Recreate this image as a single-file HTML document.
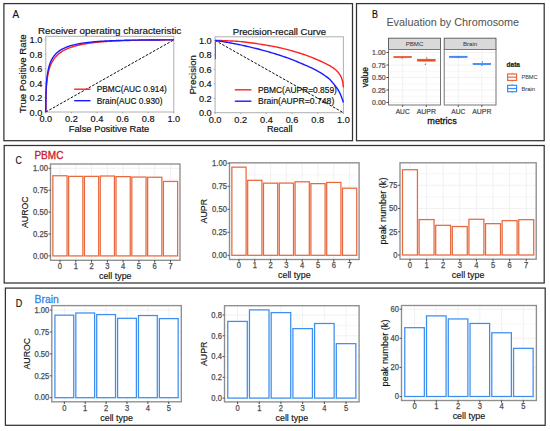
<!DOCTYPE html>
<html><head><meta charset="utf-8"><style>
html,body{margin:0;padding:0;background:#fff;width:550px;height:431px;overflow:hidden;}
svg{display:block;font-family:"Liberation Sans",sans-serif;}
</style></head><body>
<svg width="550" height="431" viewBox="0 0 550 431" font-family="Liberation Sans, sans-serif">
<rect x="3.9" y="3.6" width="348.6" height="137.1" fill="none" stroke="#333" stroke-width="1.25"/>
<rect x="356.5" y="3.6" width="187.7" height="137.1" fill="none" stroke="#333" stroke-width="1.25"/>
<rect x="4.2" y="145.5" width="540" height="137.5" fill="none" stroke="#333" stroke-width="1.25"/>
<rect x="5.4" y="288.1" width="539.8" height="137.2" fill="none" stroke="#333" stroke-width="1.25"/>
<text x="12.4" y="17.9" font-size="10" fill="#111" stroke="#111" stroke-width="0.15" textLength="6.6" lengthAdjust="spacingAndGlyphs">A</text>
<text x="372.1" y="18" font-size="10" fill="#111" stroke="#111" stroke-width="0.22" textLength="5.9" lengthAdjust="spacingAndGlyphs">B</text>
<text x="15.4" y="163.7" font-size="10.2" fill="#111" stroke="#111" stroke-width="0.15" textLength="6.3" lengthAdjust="spacingAndGlyphs">C</text>
<text x="15.8" y="306.7" font-size="10.2" fill="#111" stroke="#111" stroke-width="0.15" textLength="6.5" lengthAdjust="spacingAndGlyphs">D</text>
<rect x="45.8" y="36.3" width="128" height="75.7" fill="none" stroke="#b0b0b0" stroke-width="1"/>
<line x1="44.5" y1="112" x2="45.8" y2="112" stroke="#999" stroke-width="0.8"/>
<text x="42.4" y="115.55" font-size="9.9" fill="#111" stroke="#111" stroke-width="0.18" text-anchor="end" textLength="12.8" lengthAdjust="spacingAndGlyphs">0.0</text>
<line x1="45.8" y1="112" x2="45.8" y2="113.3" stroke="#999" stroke-width="0.8"/>
<text x="45.8" y="121.9" font-size="9.9" fill="#111" stroke="#111" stroke-width="0.18" text-anchor="middle" textLength="12.8" lengthAdjust="spacingAndGlyphs">0.0</text>
<line x1="44.5" y1="97.58" x2="45.8" y2="97.58" stroke="#999" stroke-width="0.8"/>
<text x="42.4" y="101.13" font-size="9.9" fill="#111" stroke="#111" stroke-width="0.18" text-anchor="end" textLength="12.8" lengthAdjust="spacingAndGlyphs">0.2</text>
<line x1="71.4" y1="112" x2="71.4" y2="113.3" stroke="#999" stroke-width="0.8"/>
<text x="71.4" y="121.9" font-size="9.9" fill="#111" stroke="#111" stroke-width="0.18" text-anchor="middle" textLength="12.8" lengthAdjust="spacingAndGlyphs">0.2</text>
<line x1="44.5" y1="83.16" x2="45.8" y2="83.16" stroke="#999" stroke-width="0.8"/>
<text x="42.4" y="86.71" font-size="9.9" fill="#111" stroke="#111" stroke-width="0.18" text-anchor="end" textLength="12.8" lengthAdjust="spacingAndGlyphs">0.4</text>
<line x1="97" y1="112" x2="97" y2="113.3" stroke="#999" stroke-width="0.8"/>
<text x="97" y="121.9" font-size="9.9" fill="#111" stroke="#111" stroke-width="0.18" text-anchor="middle" textLength="12.8" lengthAdjust="spacingAndGlyphs">0.4</text>
<line x1="44.5" y1="68.74" x2="45.8" y2="68.74" stroke="#999" stroke-width="0.8"/>
<text x="42.4" y="72.29" font-size="9.9" fill="#111" stroke="#111" stroke-width="0.18" text-anchor="end" textLength="12.8" lengthAdjust="spacingAndGlyphs">0.6</text>
<line x1="122.6" y1="112" x2="122.6" y2="113.3" stroke="#999" stroke-width="0.8"/>
<text x="122.6" y="121.9" font-size="9.9" fill="#111" stroke="#111" stroke-width="0.18" text-anchor="middle" textLength="12.8" lengthAdjust="spacingAndGlyphs">0.6</text>
<line x1="44.5" y1="54.32" x2="45.8" y2="54.32" stroke="#999" stroke-width="0.8"/>
<text x="42.4" y="57.87" font-size="9.9" fill="#111" stroke="#111" stroke-width="0.18" text-anchor="end" textLength="12.8" lengthAdjust="spacingAndGlyphs">0.8</text>
<line x1="148.2" y1="112" x2="148.2" y2="113.3" stroke="#999" stroke-width="0.8"/>
<text x="148.2" y="121.9" font-size="9.9" fill="#111" stroke="#111" stroke-width="0.18" text-anchor="middle" textLength="12.8" lengthAdjust="spacingAndGlyphs">0.8</text>
<line x1="44.5" y1="39.9" x2="45.8" y2="39.9" stroke="#999" stroke-width="0.8"/>
<text x="42.4" y="43.45" font-size="9.9" fill="#111" stroke="#111" stroke-width="0.18" text-anchor="end" textLength="12.8" lengthAdjust="spacingAndGlyphs">1.0</text>
<line x1="173.8" y1="112" x2="173.8" y2="113.3" stroke="#999" stroke-width="0.8"/>
<text x="173.8" y="121.9" font-size="9.9" fill="#111" stroke="#111" stroke-width="0.18" text-anchor="middle" textLength="12.8" lengthAdjust="spacingAndGlyphs">1.0</text>
<line x1="45.8" y1="112" x2="173.8" y2="39.9" stroke="#000" stroke-width="0.95" stroke-dasharray="2.6 1.5"/>
<path d="M45.8 112 L45.8 111.46 L45.8 111.24 L45.8 110.94 L45.8 110.51 L45.8 109.94 L45.8 109.16 L45.81 108.12 L45.81 106.74 L45.82 104.94 L45.85 102.61 L45.89 99.65 L45.98 95.96 L46.14 91.43 L46.46 86.03 L47.08 79.76 L47.34 77.88 L48.4 72.17 L49.46 68.27 L50.52 65.32 L51.59 62.96 L52.65 61.01 L53.71 59.35 L54.78 57.91 L55.84 56.65 L56.9 55.53 L57.96 54.53 L59.03 53.63 L60.09 52.81 L61.15 52.06 L62.21 51.38 L63.28 50.75 L64.34 50.16 L65.4 49.62 L66.47 49.12 L67.53 48.65 L68.59 48.21 L69.65 47.8 L70.72 47.42 L71.78 47.05 L72.84 46.71 L73.9 46.39 L74.97 46.09 L76.03 45.8 L77.09 45.53 L78.15 45.27 L79.22 45.03 L80.28 44.8 L81.34 44.58 L82.41 44.37 L83.47 44.17 L84.53 43.98 L85.59 43.8 L86.66 43.63 L87.72 43.46 L88.78 43.31 L89.84 43.16 L90.91 43.01 L91.97 42.88 L93.03 42.75 L94.1 42.62 L95.16 42.5 L96.22 42.39 L97.28 42.28 L98.35 42.17 L99.41 42.07 L100.47 41.97 L101.53 41.88 L102.6 41.79 L103.66 41.7 L104.72 41.62 L105.79 41.54 L106.85 41.47 L107.91 41.4 L108.97 41.33 L110.04 41.26 L111.1 41.2 L112.16 41.13 L113.22 41.07 L114.29 41.02 L115.35 40.96 L116.41 40.91 L117.48 40.86 L118.54 40.81 L119.6 40.77 L120.66 40.72 L121.73 40.68 L122.79 40.64 L123.85 40.6 L124.91 40.56 L125.98 40.53 L127.04 40.49 L128.1 40.46 L129.17 40.43 L130.23 40.4 L131.29 40.37 L132.35 40.34 L133.42 40.31 L134.48 40.29 L135.54 40.27 L136.6 40.24 L137.67 40.22 L138.73 40.2 L139.79 40.18 L140.86 40.16 L141.92 40.14 L142.98 40.12 L144.04 40.11 L145.11 40.09 L146.17 40.08 L147.23 40.06 L148.29 40.05 L149.36 40.04 L150.42 40.03 L151.48 40.01 L152.55 40 L153.61 39.99 L154.67 39.98 L155.73 39.98 L156.8 39.97 L157.86 39.96 L158.92 39.95 L159.98 39.95 L161.05 39.94 L162.11 39.93 L163.17 39.93 L164.24 39.93 L165.3 39.92 L166.36 39.92 L167.42 39.91 L168.49 39.91 L169.55 39.91 L170.61 39.91 L171.67 39.91 L172.74 39.91 L173.8 39.9" fill="none" stroke="#ff2020" stroke-width="1.4" stroke-linejoin="round"/>
<path d="M45.8 112 L45.8 111.38 L45.8 111.12 L45.8 110.77 L45.8 110.27 L45.8 109.61 L45.8 108.71 L45.81 107.5 L45.81 105.92 L45.82 103.86 L45.85 101.23 L45.89 97.92 L45.98 93.84 L46.14 88.91 L46.46 83.14 L47.08 76.57 L47.34 74.64 L48.4 68.84 L49.46 64.97 L50.52 62.09 L51.59 59.81 L52.65 57.94 L53.71 56.38 L54.78 55.03 L55.84 53.87 L56.9 52.84 L57.96 51.93 L59.03 51.11 L60.09 50.38 L61.15 49.71 L62.21 49.1 L63.28 48.55 L64.34 48.04 L65.4 47.57 L66.47 47.13 L67.53 46.73 L68.59 46.35 L69.65 46.01 L70.72 45.68 L71.78 45.38 L72.84 45.09 L73.9 44.82 L74.97 44.57 L76.03 44.33 L77.09 44.11 L78.15 43.9 L79.22 43.7 L80.28 43.52 L81.34 43.34 L82.41 43.17 L83.47 43.01 L84.53 42.86 L85.59 42.72 L86.66 42.58 L87.72 42.45 L88.78 42.33 L89.84 42.22 L90.91 42.1 L91.97 42 L93.03 41.9 L94.1 41.8 L95.16 41.71 L96.22 41.62 L97.28 41.54 L98.35 41.46 L99.41 41.39 L100.47 41.31 L101.53 41.24 L102.6 41.18 L103.66 41.12 L104.72 41.06 L105.79 41 L106.85 40.94 L107.91 40.89 L108.97 40.84 L110.04 40.79 L111.1 40.75 L112.16 40.7 L113.22 40.66 L114.29 40.62 L115.35 40.59 L116.41 40.55 L117.48 40.51 L118.54 40.48 L119.6 40.45 L120.66 40.42 L121.73 40.39 L122.79 40.36 L123.85 40.34 L124.91 40.31 L125.98 40.29 L127.04 40.26 L128.1 40.24 L129.17 40.22 L130.23 40.2 L131.29 40.18 L132.35 40.16 L133.42 40.15 L134.48 40.13 L135.54 40.12 L136.6 40.1 L137.67 40.09 L138.73 40.07 L139.79 40.06 L140.86 40.05 L141.92 40.04 L142.98 40.03 L144.04 40.02 L145.11 40.01 L146.17 40 L147.23 39.99 L148.29 39.98 L149.36 39.98 L150.42 39.97 L151.48 39.96 L152.55 39.96 L153.61 39.95 L154.67 39.95 L155.73 39.94 L156.8 39.94 L157.86 39.93 L158.92 39.93 L159.98 39.93 L161.05 39.92 L162.11 39.92 L163.17 39.92 L164.24 39.91 L165.3 39.91 L166.36 39.91 L167.42 39.91 L168.49 39.91 L169.55 39.91 L170.61 39.91 L171.67 39.91 L172.74 39.9 L173.8 39.9" fill="none" stroke="#1a1aff" stroke-width="1.4" stroke-linejoin="round"/>
<text x="109.6" y="34" font-size="9.3" fill="#111" stroke="#111" stroke-width="0.18" text-anchor="middle" textLength="143.4" lengthAdjust="spacingAndGlyphs">Receiver operating characteristic</text>
<text x="109" y="131.9" font-size="9.3" fill="#111" stroke="#111" stroke-width="0.18" text-anchor="middle" textLength="80.6" lengthAdjust="spacingAndGlyphs">False Positive Rate</text>
<text x="26.3" y="73.8" font-size="9.8" fill="#111" stroke="#111" stroke-width="0.18" text-anchor="middle" textLength="79" lengthAdjust="spacingAndGlyphs" transform="rotate(-90 26.3 73.8)">True Positive Rate</text>
<line x1="74.2" y1="89.2" x2="90.5" y2="89.2" stroke="#ff2020" stroke-width="1.4"/>
<line x1="74.2" y1="100.7" x2="90.5" y2="100.7" stroke="#1a1aff" stroke-width="1.4"/>
<text x="96.7" y="92.2" font-size="9" fill="#111" stroke="#111" stroke-width="0.18" textLength="70.2" lengthAdjust="spacingAndGlyphs">PBMC(AUC 0.914)</text>
<text x="96.7" y="103.7" font-size="9" fill="#111" stroke="#111" stroke-width="0.18" textLength="65.8" lengthAdjust="spacingAndGlyphs">Brain(AUC 0.930)</text>
<rect x="215.1" y="36.8" width="128.3" height="75.9" fill="none" stroke="#b0b0b0" stroke-width="1"/>
<line x1="213.8" y1="112.7" x2="215.1" y2="112.7" stroke="#999" stroke-width="0.8"/>
<text x="211.7" y="116.25" font-size="9.9" fill="#111" stroke="#111" stroke-width="0.18" text-anchor="end" textLength="12.8" lengthAdjust="spacingAndGlyphs">0.0</text>
<line x1="215.1" y1="112.7" x2="215.1" y2="114" stroke="#999" stroke-width="0.8"/>
<text x="215.1" y="122.6" font-size="9.9" fill="#111" stroke="#111" stroke-width="0.18" text-anchor="middle" textLength="12.8" lengthAdjust="spacingAndGlyphs">0.0</text>
<line x1="213.8" y1="98.24" x2="215.1" y2="98.24" stroke="#999" stroke-width="0.8"/>
<text x="211.7" y="101.79" font-size="9.9" fill="#111" stroke="#111" stroke-width="0.18" text-anchor="end" textLength="12.8" lengthAdjust="spacingAndGlyphs">0.2</text>
<line x1="240.76" y1="112.7" x2="240.76" y2="114" stroke="#999" stroke-width="0.8"/>
<text x="240.76" y="122.6" font-size="9.9" fill="#111" stroke="#111" stroke-width="0.18" text-anchor="middle" textLength="12.8" lengthAdjust="spacingAndGlyphs">0.2</text>
<line x1="213.8" y1="83.79" x2="215.1" y2="83.79" stroke="#999" stroke-width="0.8"/>
<text x="211.7" y="87.34" font-size="9.9" fill="#111" stroke="#111" stroke-width="0.18" text-anchor="end" textLength="12.8" lengthAdjust="spacingAndGlyphs">0.4</text>
<line x1="266.42" y1="112.7" x2="266.42" y2="114" stroke="#999" stroke-width="0.8"/>
<text x="266.42" y="122.6" font-size="9.9" fill="#111" stroke="#111" stroke-width="0.18" text-anchor="middle" textLength="12.8" lengthAdjust="spacingAndGlyphs">0.4</text>
<line x1="213.8" y1="69.33" x2="215.1" y2="69.33" stroke="#999" stroke-width="0.8"/>
<text x="211.7" y="72.88" font-size="9.9" fill="#111" stroke="#111" stroke-width="0.18" text-anchor="end" textLength="12.8" lengthAdjust="spacingAndGlyphs">0.6</text>
<line x1="292.08" y1="112.7" x2="292.08" y2="114" stroke="#999" stroke-width="0.8"/>
<text x="292.08" y="122.6" font-size="9.9" fill="#111" stroke="#111" stroke-width="0.18" text-anchor="middle" textLength="12.8" lengthAdjust="spacingAndGlyphs">0.6</text>
<line x1="213.8" y1="54.87" x2="215.1" y2="54.87" stroke="#999" stroke-width="0.8"/>
<text x="211.7" y="58.42" font-size="9.9" fill="#111" stroke="#111" stroke-width="0.18" text-anchor="end" textLength="12.8" lengthAdjust="spacingAndGlyphs">0.8</text>
<line x1="317.74" y1="112.7" x2="317.74" y2="114" stroke="#999" stroke-width="0.8"/>
<text x="317.74" y="122.6" font-size="9.9" fill="#111" stroke="#111" stroke-width="0.18" text-anchor="middle" textLength="12.8" lengthAdjust="spacingAndGlyphs">0.8</text>
<line x1="213.8" y1="40.41" x2="215.1" y2="40.41" stroke="#999" stroke-width="0.8"/>
<text x="211.7" y="43.96" font-size="9.9" fill="#111" stroke="#111" stroke-width="0.18" text-anchor="end" textLength="12.8" lengthAdjust="spacingAndGlyphs">1.0</text>
<line x1="343.4" y1="112.7" x2="343.4" y2="114" stroke="#999" stroke-width="0.8"/>
<text x="343.4" y="122.6" font-size="9.9" fill="#111" stroke="#111" stroke-width="0.18" text-anchor="middle" textLength="12.8" lengthAdjust="spacingAndGlyphs">1.0</text>
<line x1="215.1" y1="40.41" x2="343.4" y2="112.7" stroke="#000" stroke-width="0.95" stroke-dasharray="2.6 1.5"/>
<path d="M215.1 40.41 L217.06 40.43 L219.01 40.47 L220.97 40.52 L222.93 40.59 L224.89 40.66 L226.84 40.75 L228.8 40.84 L230.76 40.94 L232.71 41.05 L234.67 41.16 L236.63 41.28 L238.59 41.42 L240.54 41.59 L242.5 41.78 L244.46 41.98 L246.41 42.2 L248.37 42.44 L250.33 42.69 L252.29 42.96 L254.24 43.24 L256.2 43.52 L258.16 43.82 L260.11 44.13 L262.07 44.45 L264.03 44.77 L265.99 45.1 L267.94 45.44 L269.9 45.77 L271.86 46.12 L273.81 46.49 L275.77 46.88 L277.73 47.29 L279.68 47.72 L281.64 48.17 L283.6 48.64 L285.56 49.13 L287.51 49.63 L289.47 50.15 L291.43 50.68 L293.38 51.23 L295.34 51.8 L297.3 52.37 L299.26 52.96 L301.21 53.57 L303.17 54.22 L305.13 54.91 L307.08 55.63 L309.04 56.38 L311 57.15 L312.96 57.94 L314.91 58.74 L316.87 59.56 L318.83 60.4 L320.78 61.25 L322.74 62.15 L324.7 63.08 L326.66 64.06 L328.61 65.1 L330.57 66.19 L330.9 66.39 L331.23 66.59 L331.56 66.79 L331.89 67.01 L332.21 67.23 L332.54 67.45 L332.87 67.69 L333.2 67.93 L333.53 68.18 L333.86 68.43 L334.19 68.68 L334.52 68.93 L334.85 69.19 L335.18 69.45 L335.5 69.72 L335.83 70 L336.16 70.29 L336.49 70.59 L336.82 70.91 L337.15 71.23 L337.48 71.58 L337.81 71.94 L338.14 72.32 L338.47 72.71 L338.79 73.13 L339.12 73.57 L339.45 74.04 L339.78 74.53 L340.11 75.04 L340.44 75.6 L340.77 76.21 L341.1 76.91 L341.43 77.71 L341.76 78.62 L342.08 79.68 L342.41 80.88 L342.74 82.27 L343.07 84.45 L343.4 87.4" fill="none" stroke="#ff2020" stroke-width="1.4" stroke-linejoin="round"/>
<path d="M215.1 40.41 L217.06 40.7 L219.01 41 L220.97 41.3 L222.93 41.62 L224.89 41.94 L226.84 42.28 L228.8 42.63 L230.76 42.98 L232.71 43.35 L234.67 43.73 L236.63 44.12 L238.59 44.52 L240.54 44.93 L242.5 45.34 L244.46 45.77 L246.41 46.21 L248.37 46.66 L250.33 47.11 L252.29 47.58 L254.24 48.06 L256.2 48.54 L258.16 49.04 L260.11 49.55 L262.07 50.06 L264.03 50.59 L265.99 51.13 L267.94 51.68 L269.9 52.23 L271.86 52.8 L273.81 53.39 L275.77 53.99 L277.73 54.61 L279.68 55.24 L281.64 55.9 L283.6 56.56 L285.56 57.25 L287.51 57.96 L289.47 58.68 L291.43 59.42 L293.38 60.18 L295.34 60.96 L297.3 61.76 L299.26 62.58 L301.21 63.41 L303.17 64.24 L305.13 65.08 L307.08 65.94 L309.04 66.81 L311 67.72 L312.96 68.66 L314.91 69.64 L316.87 70.68 L318.83 71.77 L320.78 72.93 L322.74 74.15 L324.7 75.46 L326.66 76.85 L328.61 78.35 L330.57 80.28 L330.9 80.65 L331.23 81.02 L331.56 81.4 L331.89 81.78 L332.21 82.17 L332.54 82.57 L332.87 82.96 L333.2 83.36 L333.53 83.76 L333.86 84.15 L334.19 84.55 L334.52 84.96 L334.85 85.37 L335.18 85.78 L335.5 86.2 L335.83 86.63 L336.16 87.07 L336.49 87.52 L336.82 87.98 L337.15 88.46 L337.48 88.95 L337.81 89.45 L338.14 89.98 L338.47 90.52 L338.79 91.08 L339.12 91.67 L339.45 92.27 L339.78 92.91 L340.11 93.6 L340.44 94.34 L340.77 95.13 L341.1 95.95 L341.43 96.82 L341.76 97.72 L342.08 98.65 L342.41 99.6 L342.74 100.58 L343.07 101.57 L343.4 102.58" fill="none" stroke="#1a1aff" stroke-width="1.4" stroke-linejoin="round"/>
<line x1="215.4" y1="40.41" x2="215.4" y2="59.21" stroke="#5050e0" stroke-width="1"/>
<text x="279.4" y="34.5" font-size="9.3" fill="#111" stroke="#111" stroke-width="0.18" text-anchor="middle" textLength="93.2" lengthAdjust="spacingAndGlyphs">Precision-recall Curve</text>
<text x="279.7" y="131.9" font-size="9.3" fill="#111" stroke="#111" stroke-width="0.18" text-anchor="middle" textLength="25.6" lengthAdjust="spacingAndGlyphs">Recall</text>
<text x="196.3" y="74.9" font-size="9.8" fill="#111" stroke="#111" stroke-width="0.18" text-anchor="middle" textLength="39.4" lengthAdjust="spacingAndGlyphs" transform="rotate(-90 196.3 74.9)">Precision</text>
<line x1="234.8" y1="89.8" x2="251.4" y2="89.8" stroke="#ff2020" stroke-width="1.4"/>
<line x1="234.8" y1="101.2" x2="251.4" y2="101.2" stroke="#1a1aff" stroke-width="1.4"/>
<text x="257.9" y="92.8" font-size="9" fill="#111" stroke="#111" stroke-width="0.18" textLength="79" lengthAdjust="spacingAndGlyphs">PBMC(AUPR=0.859)</text>
<text x="257.9" y="104.2" font-size="9" fill="#111" stroke="#111" stroke-width="0.18" textLength="76.4" lengthAdjust="spacingAndGlyphs">Brain(AUPR=0.748)</text>
<text x="34.4" y="159.1" font-size="10.4" fill="#c8202a" stroke="#c8202a" stroke-width="0.31" textLength="29" lengthAdjust="spacingAndGlyphs">PBMC</text>
<line x1="50.5" y1="244.95" x2="180" y2="244.95" stroke="#efefef" stroke-width="0.5"/>
<line x1="50.5" y1="223.05" x2="180" y2="223.05" stroke="#efefef" stroke-width="0.5"/>
<line x1="50.5" y1="201.15" x2="180" y2="201.15" stroke="#efefef" stroke-width="0.5"/>
<line x1="50.5" y1="179.25" x2="180" y2="179.25" stroke="#efefef" stroke-width="0.5"/>
<line x1="50.5" y1="255.9" x2="180" y2="255.9" stroke="#efefef" stroke-width="0.9"/>
<line x1="50.5" y1="234" x2="180" y2="234" stroke="#efefef" stroke-width="0.9"/>
<line x1="50.5" y1="212.1" x2="180" y2="212.1" stroke="#efefef" stroke-width="0.9"/>
<line x1="50.5" y1="190.2" x2="180" y2="190.2" stroke="#efefef" stroke-width="0.9"/>
<line x1="50.5" y1="168.3" x2="180" y2="168.3" stroke="#efefef" stroke-width="0.9"/>
<line x1="59.98" y1="164" x2="59.98" y2="260.3" stroke="#efefef" stroke-width="0.9"/>
<line x1="75.77" y1="164" x2="75.77" y2="260.3" stroke="#efefef" stroke-width="0.9"/>
<line x1="91.56" y1="164" x2="91.56" y2="260.3" stroke="#efefef" stroke-width="0.9"/>
<line x1="107.35" y1="164" x2="107.35" y2="260.3" stroke="#efefef" stroke-width="0.9"/>
<line x1="123.15" y1="164" x2="123.15" y2="260.3" stroke="#efefef" stroke-width="0.9"/>
<line x1="138.94" y1="164" x2="138.94" y2="260.3" stroke="#efefef" stroke-width="0.9"/>
<line x1="154.73" y1="164" x2="154.73" y2="260.3" stroke="#efefef" stroke-width="0.9"/>
<line x1="170.52" y1="164" x2="170.52" y2="260.3" stroke="#efefef" stroke-width="0.9"/>
<rect x="52.87" y="175.75" width="14.21" height="80.15" fill="#fff" stroke="#e8693d" stroke-width="1.25"/>
<rect x="68.66" y="176.36" width="14.21" height="79.54" fill="#fff" stroke="#e8693d" stroke-width="1.25"/>
<rect x="84.45" y="176.36" width="14.21" height="79.54" fill="#fff" stroke="#e8693d" stroke-width="1.25"/>
<rect x="100.25" y="176.01" width="14.21" height="79.89" fill="#fff" stroke="#e8693d" stroke-width="1.25"/>
<rect x="116.04" y="176.62" width="14.21" height="79.28" fill="#fff" stroke="#e8693d" stroke-width="1.25"/>
<rect x="131.83" y="177.06" width="14.21" height="78.84" fill="#fff" stroke="#e8693d" stroke-width="1.25"/>
<rect x="147.63" y="177.24" width="14.21" height="78.66" fill="#fff" stroke="#e8693d" stroke-width="1.25"/>
<rect x="163.42" y="181.44" width="14.21" height="74.46" fill="#fff" stroke="#e8693d" stroke-width="1.25"/>
<rect x="50.5" y="164" width="129.5" height="96.3" fill="none" stroke="#8e8e8e" stroke-width="1.35"/>
<line x1="48.5" y1="255.9" x2="50.5" y2="255.9" stroke="#444" stroke-width="0.9"/>
<text x="47.9" y="258.65" font-size="8.2" fill="#4d4d4d" stroke="#4d4d4d" stroke-width="0.25" text-anchor="end" textLength="14.79" lengthAdjust="spacingAndGlyphs">0.00</text>
<line x1="48.5" y1="234" x2="50.5" y2="234" stroke="#444" stroke-width="0.9"/>
<text x="47.9" y="236.75" font-size="8.2" fill="#4d4d4d" stroke="#4d4d4d" stroke-width="0.25" text-anchor="end" textLength="14.79" lengthAdjust="spacingAndGlyphs">0.25</text>
<line x1="48.5" y1="212.1" x2="50.5" y2="212.1" stroke="#444" stroke-width="0.9"/>
<text x="47.9" y="214.85" font-size="8.2" fill="#4d4d4d" stroke="#4d4d4d" stroke-width="0.25" text-anchor="end" textLength="14.79" lengthAdjust="spacingAndGlyphs">0.50</text>
<line x1="48.5" y1="190.2" x2="50.5" y2="190.2" stroke="#444" stroke-width="0.9"/>
<text x="47.9" y="192.95" font-size="8.2" fill="#4d4d4d" stroke="#4d4d4d" stroke-width="0.25" text-anchor="end" textLength="14.79" lengthAdjust="spacingAndGlyphs">0.75</text>
<line x1="48.5" y1="168.3" x2="50.5" y2="168.3" stroke="#444" stroke-width="0.9"/>
<text x="47.9" y="171.05" font-size="8.2" fill="#4d4d4d" stroke="#4d4d4d" stroke-width="0.25" text-anchor="end" textLength="14.79" lengthAdjust="spacingAndGlyphs">1.00</text>
<line x1="59.98" y1="260.3" x2="59.98" y2="262.5" stroke="#333" stroke-width="0.9"/>
<text x="59.98" y="269.1" font-size="8.2" fill="#4d4d4d" stroke="#4d4d4d" stroke-width="0.25" text-anchor="middle" textLength="4.23" lengthAdjust="spacingAndGlyphs">0</text>
<line x1="75.77" y1="260.3" x2="75.77" y2="262.5" stroke="#333" stroke-width="0.9"/>
<text x="75.77" y="269.1" font-size="8.2" fill="#4d4d4d" stroke="#4d4d4d" stroke-width="0.25" text-anchor="middle" textLength="4.23" lengthAdjust="spacingAndGlyphs">1</text>
<line x1="91.56" y1="260.3" x2="91.56" y2="262.5" stroke="#333" stroke-width="0.9"/>
<text x="91.56" y="269.1" font-size="8.2" fill="#4d4d4d" stroke="#4d4d4d" stroke-width="0.25" text-anchor="middle" textLength="4.23" lengthAdjust="spacingAndGlyphs">2</text>
<line x1="107.35" y1="260.3" x2="107.35" y2="262.5" stroke="#333" stroke-width="0.9"/>
<text x="107.35" y="269.1" font-size="8.2" fill="#4d4d4d" stroke="#4d4d4d" stroke-width="0.25" text-anchor="middle" textLength="4.23" lengthAdjust="spacingAndGlyphs">3</text>
<line x1="123.15" y1="260.3" x2="123.15" y2="262.5" stroke="#333" stroke-width="0.9"/>
<text x="123.15" y="269.1" font-size="8.2" fill="#4d4d4d" stroke="#4d4d4d" stroke-width="0.25" text-anchor="middle" textLength="4.23" lengthAdjust="spacingAndGlyphs">4</text>
<line x1="138.94" y1="260.3" x2="138.94" y2="262.5" stroke="#333" stroke-width="0.9"/>
<text x="138.94" y="269.1" font-size="8.2" fill="#4d4d4d" stroke="#4d4d4d" stroke-width="0.25" text-anchor="middle" textLength="4.23" lengthAdjust="spacingAndGlyphs">5</text>
<line x1="154.73" y1="260.3" x2="154.73" y2="262.5" stroke="#333" stroke-width="0.9"/>
<text x="154.73" y="269.1" font-size="8.2" fill="#4d4d4d" stroke="#4d4d4d" stroke-width="0.25" text-anchor="middle" textLength="4.23" lengthAdjust="spacingAndGlyphs">6</text>
<line x1="170.52" y1="260.3" x2="170.52" y2="262.5" stroke="#333" stroke-width="0.9"/>
<text x="170.52" y="269.1" font-size="8.2" fill="#4d4d4d" stroke="#4d4d4d" stroke-width="0.25" text-anchor="middle" textLength="4.23" lengthAdjust="spacingAndGlyphs">7</text>
<text x="115.25" y="279.2" font-size="9.2" fill="#111" stroke="#111" stroke-width="0.15" text-anchor="middle" textLength="32.6" lengthAdjust="spacingAndGlyphs">cell type</text>
<text x="28.3" y="212.15" font-size="9.5" fill="#111" stroke="#111" stroke-width="0.15" text-anchor="middle" textLength="31.7" lengthAdjust="spacingAndGlyphs" transform="rotate(-90 28.3 212.15)">AUROC</text>
<line x1="229.5" y1="243.8" x2="359.1" y2="243.8" stroke="#efefef" stroke-width="0.5"/>
<line x1="229.5" y1="220.8" x2="359.1" y2="220.8" stroke="#efefef" stroke-width="0.5"/>
<line x1="229.5" y1="197.8" x2="359.1" y2="197.8" stroke="#efefef" stroke-width="0.5"/>
<line x1="229.5" y1="174.8" x2="359.1" y2="174.8" stroke="#efefef" stroke-width="0.5"/>
<line x1="229.5" y1="255.3" x2="359.1" y2="255.3" stroke="#efefef" stroke-width="0.9"/>
<line x1="229.5" y1="232.3" x2="359.1" y2="232.3" stroke="#efefef" stroke-width="0.9"/>
<line x1="229.5" y1="209.3" x2="359.1" y2="209.3" stroke="#efefef" stroke-width="0.9"/>
<line x1="229.5" y1="186.3" x2="359.1" y2="186.3" stroke="#efefef" stroke-width="0.9"/>
<line x1="229.5" y1="163.3" x2="359.1" y2="163.3" stroke="#efefef" stroke-width="0.9"/>
<line x1="238.98" y1="162.8" x2="238.98" y2="259.5" stroke="#efefef" stroke-width="0.9"/>
<line x1="254.79" y1="162.8" x2="254.79" y2="259.5" stroke="#efefef" stroke-width="0.9"/>
<line x1="270.59" y1="162.8" x2="270.59" y2="259.5" stroke="#efefef" stroke-width="0.9"/>
<line x1="286.4" y1="162.8" x2="286.4" y2="259.5" stroke="#efefef" stroke-width="0.9"/>
<line x1="302.2" y1="162.8" x2="302.2" y2="259.5" stroke="#efefef" stroke-width="0.9"/>
<line x1="318.01" y1="162.8" x2="318.01" y2="259.5" stroke="#efefef" stroke-width="0.9"/>
<line x1="333.81" y1="162.8" x2="333.81" y2="259.5" stroke="#efefef" stroke-width="0.9"/>
<line x1="349.62" y1="162.8" x2="349.62" y2="259.5" stroke="#efefef" stroke-width="0.9"/>
<rect x="231.87" y="167.16" width="14.22" height="88.14" fill="#fff" stroke="#e8693d" stroke-width="1.25"/>
<rect x="247.68" y="180.32" width="14.22" height="74.98" fill="#fff" stroke="#e8693d" stroke-width="1.25"/>
<rect x="263.48" y="183.17" width="14.22" height="72.13" fill="#fff" stroke="#e8693d" stroke-width="1.25"/>
<rect x="279.29" y="183.08" width="14.22" height="72.22" fill="#fff" stroke="#e8693d" stroke-width="1.25"/>
<rect x="295.09" y="181.79" width="14.22" height="73.51" fill="#fff" stroke="#e8693d" stroke-width="1.25"/>
<rect x="310.9" y="183.63" width="14.22" height="71.67" fill="#fff" stroke="#e8693d" stroke-width="1.25"/>
<rect x="326.7" y="182.44" width="14.22" height="72.86" fill="#fff" stroke="#e8693d" stroke-width="1.25"/>
<rect x="342.5" y="188.23" width="14.22" height="67.07" fill="#fff" stroke="#e8693d" stroke-width="1.25"/>
<rect x="229.5" y="162.8" width="129.6" height="96.7" fill="none" stroke="#8e8e8e" stroke-width="1.35"/>
<line x1="227.5" y1="255.3" x2="229.5" y2="255.3" stroke="#444" stroke-width="0.9"/>
<text x="226.9" y="258.05" font-size="8.2" fill="#4d4d4d" stroke="#4d4d4d" stroke-width="0.25" text-anchor="end" textLength="14.79" lengthAdjust="spacingAndGlyphs">0.00</text>
<line x1="227.5" y1="232.3" x2="229.5" y2="232.3" stroke="#444" stroke-width="0.9"/>
<text x="226.9" y="235.05" font-size="8.2" fill="#4d4d4d" stroke="#4d4d4d" stroke-width="0.25" text-anchor="end" textLength="14.79" lengthAdjust="spacingAndGlyphs">0.25</text>
<line x1="227.5" y1="209.3" x2="229.5" y2="209.3" stroke="#444" stroke-width="0.9"/>
<text x="226.9" y="212.05" font-size="8.2" fill="#4d4d4d" stroke="#4d4d4d" stroke-width="0.25" text-anchor="end" textLength="14.79" lengthAdjust="spacingAndGlyphs">0.50</text>
<line x1="227.5" y1="186.3" x2="229.5" y2="186.3" stroke="#444" stroke-width="0.9"/>
<text x="226.9" y="189.05" font-size="8.2" fill="#4d4d4d" stroke="#4d4d4d" stroke-width="0.25" text-anchor="end" textLength="14.79" lengthAdjust="spacingAndGlyphs">0.75</text>
<line x1="227.5" y1="163.3" x2="229.5" y2="163.3" stroke="#444" stroke-width="0.9"/>
<text x="226.9" y="166.05" font-size="8.2" fill="#4d4d4d" stroke="#4d4d4d" stroke-width="0.25" text-anchor="end" textLength="14.79" lengthAdjust="spacingAndGlyphs">1.00</text>
<line x1="238.98" y1="259.5" x2="238.98" y2="261.7" stroke="#333" stroke-width="0.9"/>
<text x="238.98" y="268.3" font-size="8.2" fill="#4d4d4d" stroke="#4d4d4d" stroke-width="0.25" text-anchor="middle" textLength="4.23" lengthAdjust="spacingAndGlyphs">0</text>
<line x1="254.79" y1="259.5" x2="254.79" y2="261.7" stroke="#333" stroke-width="0.9"/>
<text x="254.79" y="268.3" font-size="8.2" fill="#4d4d4d" stroke="#4d4d4d" stroke-width="0.25" text-anchor="middle" textLength="4.23" lengthAdjust="spacingAndGlyphs">1</text>
<line x1="270.59" y1="259.5" x2="270.59" y2="261.7" stroke="#333" stroke-width="0.9"/>
<text x="270.59" y="268.3" font-size="8.2" fill="#4d4d4d" stroke="#4d4d4d" stroke-width="0.25" text-anchor="middle" textLength="4.23" lengthAdjust="spacingAndGlyphs">2</text>
<line x1="286.4" y1="259.5" x2="286.4" y2="261.7" stroke="#333" stroke-width="0.9"/>
<text x="286.4" y="268.3" font-size="8.2" fill="#4d4d4d" stroke="#4d4d4d" stroke-width="0.25" text-anchor="middle" textLength="4.23" lengthAdjust="spacingAndGlyphs">3</text>
<line x1="302.2" y1="259.5" x2="302.2" y2="261.7" stroke="#333" stroke-width="0.9"/>
<text x="302.2" y="268.3" font-size="8.2" fill="#4d4d4d" stroke="#4d4d4d" stroke-width="0.25" text-anchor="middle" textLength="4.23" lengthAdjust="spacingAndGlyphs">4</text>
<line x1="318.01" y1="259.5" x2="318.01" y2="261.7" stroke="#333" stroke-width="0.9"/>
<text x="318.01" y="268.3" font-size="8.2" fill="#4d4d4d" stroke="#4d4d4d" stroke-width="0.25" text-anchor="middle" textLength="4.23" lengthAdjust="spacingAndGlyphs">5</text>
<line x1="333.81" y1="259.5" x2="333.81" y2="261.7" stroke="#333" stroke-width="0.9"/>
<text x="333.81" y="268.3" font-size="8.2" fill="#4d4d4d" stroke="#4d4d4d" stroke-width="0.25" text-anchor="middle" textLength="4.23" lengthAdjust="spacingAndGlyphs">6</text>
<line x1="349.62" y1="259.5" x2="349.62" y2="261.7" stroke="#333" stroke-width="0.9"/>
<text x="349.62" y="268.3" font-size="8.2" fill="#4d4d4d" stroke="#4d4d4d" stroke-width="0.25" text-anchor="middle" textLength="4.23" lengthAdjust="spacingAndGlyphs">7</text>
<text x="294.3" y="278.4" font-size="9.2" fill="#111" stroke="#111" stroke-width="0.15" text-anchor="middle" textLength="32.6" lengthAdjust="spacingAndGlyphs">cell type</text>
<text x="207.4" y="211.15" font-size="9.5" fill="#111" stroke="#111" stroke-width="0.15" text-anchor="middle" textLength="24.5" lengthAdjust="spacingAndGlyphs" transform="rotate(-90 207.4 211.15)">AUPR</text>
<line x1="400" y1="243.38" x2="536.2" y2="243.38" stroke="#efefef" stroke-width="0.5"/>
<line x1="400" y1="220.12" x2="536.2" y2="220.12" stroke="#efefef" stroke-width="0.5"/>
<line x1="400" y1="196.88" x2="536.2" y2="196.88" stroke="#efefef" stroke-width="0.5"/>
<line x1="400" y1="173.62" x2="536.2" y2="173.62" stroke="#efefef" stroke-width="0.5"/>
<line x1="400" y1="255" x2="536.2" y2="255" stroke="#efefef" stroke-width="0.9"/>
<line x1="400" y1="231.75" x2="536.2" y2="231.75" stroke="#efefef" stroke-width="0.9"/>
<line x1="400" y1="208.5" x2="536.2" y2="208.5" stroke="#efefef" stroke-width="0.9"/>
<line x1="400" y1="185.25" x2="536.2" y2="185.25" stroke="#efefef" stroke-width="0.9"/>
<line x1="409.97" y1="162.8" x2="409.97" y2="259.2" stroke="#efefef" stroke-width="0.9"/>
<line x1="426.58" y1="162.8" x2="426.58" y2="259.2" stroke="#efefef" stroke-width="0.9"/>
<line x1="443.19" y1="162.8" x2="443.19" y2="259.2" stroke="#efefef" stroke-width="0.9"/>
<line x1="459.8" y1="162.8" x2="459.8" y2="259.2" stroke="#efefef" stroke-width="0.9"/>
<line x1="476.4" y1="162.8" x2="476.4" y2="259.2" stroke="#efefef" stroke-width="0.9"/>
<line x1="493.01" y1="162.8" x2="493.01" y2="259.2" stroke="#efefef" stroke-width="0.9"/>
<line x1="509.62" y1="162.8" x2="509.62" y2="259.2" stroke="#efefef" stroke-width="0.9"/>
<line x1="526.23" y1="162.8" x2="526.23" y2="259.2" stroke="#efefef" stroke-width="0.9"/>
<rect x="402.49" y="169.72" width="14.95" height="85.28" fill="#fff" stroke="#e8693d" stroke-width="1.25"/>
<rect x="419.1" y="219.57" width="14.95" height="35.43" fill="#fff" stroke="#e8693d" stroke-width="1.25"/>
<rect x="435.71" y="225.33" width="14.95" height="29.67" fill="#fff" stroke="#e8693d" stroke-width="1.25"/>
<rect x="452.32" y="226.54" width="14.95" height="28.46" fill="#fff" stroke="#e8693d" stroke-width="1.25"/>
<rect x="468.93" y="219.29" width="14.95" height="35.71" fill="#fff" stroke="#e8693d" stroke-width="1.25"/>
<rect x="485.54" y="223.66" width="14.95" height="31.34" fill="#fff" stroke="#e8693d" stroke-width="1.25"/>
<rect x="502.15" y="220.68" width="14.95" height="34.32" fill="#fff" stroke="#e8693d" stroke-width="1.25"/>
<rect x="518.76" y="219.66" width="14.95" height="35.34" fill="#fff" stroke="#e8693d" stroke-width="1.25"/>
<rect x="400" y="162.8" width="136.2" height="96.4" fill="none" stroke="#8e8e8e" stroke-width="1.35"/>
<line x1="398" y1="255" x2="400" y2="255" stroke="#444" stroke-width="0.9"/>
<text x="397.4" y="257.75" font-size="8.2" fill="#4d4d4d" stroke="#4d4d4d" stroke-width="0.25" text-anchor="end" textLength="4.23" lengthAdjust="spacingAndGlyphs">0</text>
<line x1="398" y1="231.75" x2="400" y2="231.75" stroke="#444" stroke-width="0.9"/>
<text x="397.4" y="234.5" font-size="8.2" fill="#4d4d4d" stroke="#4d4d4d" stroke-width="0.25" text-anchor="end" textLength="8.45" lengthAdjust="spacingAndGlyphs">25</text>
<line x1="398" y1="208.5" x2="400" y2="208.5" stroke="#444" stroke-width="0.9"/>
<text x="397.4" y="211.25" font-size="8.2" fill="#4d4d4d" stroke="#4d4d4d" stroke-width="0.25" text-anchor="end" textLength="8.45" lengthAdjust="spacingAndGlyphs">50</text>
<line x1="398" y1="185.25" x2="400" y2="185.25" stroke="#444" stroke-width="0.9"/>
<text x="397.4" y="188" font-size="8.2" fill="#4d4d4d" stroke="#4d4d4d" stroke-width="0.25" text-anchor="end" textLength="8.45" lengthAdjust="spacingAndGlyphs">75</text>
<line x1="409.97" y1="259.2" x2="409.97" y2="261.4" stroke="#333" stroke-width="0.9"/>
<text x="409.97" y="268" font-size="8.2" fill="#4d4d4d" stroke="#4d4d4d" stroke-width="0.25" text-anchor="middle" textLength="4.23" lengthAdjust="spacingAndGlyphs">0</text>
<line x1="426.58" y1="259.2" x2="426.58" y2="261.4" stroke="#333" stroke-width="0.9"/>
<text x="426.58" y="268" font-size="8.2" fill="#4d4d4d" stroke="#4d4d4d" stroke-width="0.25" text-anchor="middle" textLength="4.23" lengthAdjust="spacingAndGlyphs">1</text>
<line x1="443.19" y1="259.2" x2="443.19" y2="261.4" stroke="#333" stroke-width="0.9"/>
<text x="443.19" y="268" font-size="8.2" fill="#4d4d4d" stroke="#4d4d4d" stroke-width="0.25" text-anchor="middle" textLength="4.23" lengthAdjust="spacingAndGlyphs">2</text>
<line x1="459.8" y1="259.2" x2="459.8" y2="261.4" stroke="#333" stroke-width="0.9"/>
<text x="459.8" y="268" font-size="8.2" fill="#4d4d4d" stroke="#4d4d4d" stroke-width="0.25" text-anchor="middle" textLength="4.23" lengthAdjust="spacingAndGlyphs">3</text>
<line x1="476.4" y1="259.2" x2="476.4" y2="261.4" stroke="#333" stroke-width="0.9"/>
<text x="476.4" y="268" font-size="8.2" fill="#4d4d4d" stroke="#4d4d4d" stroke-width="0.25" text-anchor="middle" textLength="4.23" lengthAdjust="spacingAndGlyphs">4</text>
<line x1="493.01" y1="259.2" x2="493.01" y2="261.4" stroke="#333" stroke-width="0.9"/>
<text x="493.01" y="268" font-size="8.2" fill="#4d4d4d" stroke="#4d4d4d" stroke-width="0.25" text-anchor="middle" textLength="4.23" lengthAdjust="spacingAndGlyphs">5</text>
<line x1="509.62" y1="259.2" x2="509.62" y2="261.4" stroke="#333" stroke-width="0.9"/>
<text x="509.62" y="268" font-size="8.2" fill="#4d4d4d" stroke="#4d4d4d" stroke-width="0.25" text-anchor="middle" textLength="4.23" lengthAdjust="spacingAndGlyphs">6</text>
<line x1="526.23" y1="259.2" x2="526.23" y2="261.4" stroke="#333" stroke-width="0.9"/>
<text x="526.23" y="268" font-size="8.2" fill="#4d4d4d" stroke="#4d4d4d" stroke-width="0.25" text-anchor="middle" textLength="4.23" lengthAdjust="spacingAndGlyphs">7</text>
<text x="468.1" y="278.1" font-size="9.2" fill="#111" stroke="#111" stroke-width="0.15" text-anchor="middle" textLength="32.6" lengthAdjust="spacingAndGlyphs">cell type</text>
<text x="385.5" y="211" font-size="9.5" fill="#111" stroke="#111" stroke-width="0.15" text-anchor="middle" textLength="67" lengthAdjust="spacingAndGlyphs" transform="rotate(-90 385.5 211)">peak number (k)</text>
<text x="34.6" y="303.4" font-size="10.6" fill="#3a86e8" stroke="#3a86e8" stroke-width="0.32" textLength="24.2" lengthAdjust="spacingAndGlyphs">Brain</text>
<line x1="51.8" y1="386.75" x2="181.3" y2="386.75" stroke="#efefef" stroke-width="0.5"/>
<line x1="51.8" y1="364.85" x2="181.3" y2="364.85" stroke="#efefef" stroke-width="0.5"/>
<line x1="51.8" y1="342.95" x2="181.3" y2="342.95" stroke="#efefef" stroke-width="0.5"/>
<line x1="51.8" y1="321.05" x2="181.3" y2="321.05" stroke="#efefef" stroke-width="0.5"/>
<line x1="51.8" y1="397.7" x2="181.3" y2="397.7" stroke="#efefef" stroke-width="0.9"/>
<line x1="51.8" y1="375.8" x2="181.3" y2="375.8" stroke="#efefef" stroke-width="0.9"/>
<line x1="51.8" y1="353.9" x2="181.3" y2="353.9" stroke="#efefef" stroke-width="0.9"/>
<line x1="51.8" y1="332" x2="181.3" y2="332" stroke="#efefef" stroke-width="0.9"/>
<line x1="51.8" y1="310.1" x2="181.3" y2="310.1" stroke="#efefef" stroke-width="0.9"/>
<line x1="64.33" y1="305.6" x2="64.33" y2="401.8" stroke="#efefef" stroke-width="0.9"/>
<line x1="85.22" y1="305.6" x2="85.22" y2="401.8" stroke="#efefef" stroke-width="0.9"/>
<line x1="106.11" y1="305.6" x2="106.11" y2="401.8" stroke="#efefef" stroke-width="0.9"/>
<line x1="126.99" y1="305.6" x2="126.99" y2="401.8" stroke="#efefef" stroke-width="0.9"/>
<line x1="147.88" y1="305.6" x2="147.88" y2="401.8" stroke="#efefef" stroke-width="0.9"/>
<line x1="168.77" y1="305.6" x2="168.77" y2="401.8" stroke="#efefef" stroke-width="0.9"/>
<rect x="54.93" y="315.18" width="18.8" height="82.52" fill="#fff" stroke="#3d8ef0" stroke-width="1.25"/>
<rect x="75.82" y="312.99" width="18.8" height="84.71" fill="#fff" stroke="#3d8ef0" stroke-width="1.25"/>
<rect x="96.71" y="314.57" width="18.8" height="83.13" fill="#fff" stroke="#3d8ef0" stroke-width="1.25"/>
<rect x="117.59" y="318.33" width="18.8" height="79.37" fill="#fff" stroke="#3d8ef0" stroke-width="1.25"/>
<rect x="138.48" y="315.53" width="18.8" height="82.17" fill="#fff" stroke="#3d8ef0" stroke-width="1.25"/>
<rect x="159.37" y="318.6" width="18.8" height="79.1" fill="#fff" stroke="#3d8ef0" stroke-width="1.25"/>
<rect x="51.8" y="305.6" width="129.5" height="96.2" fill="none" stroke="#8e8e8e" stroke-width="1.35"/>
<line x1="49.8" y1="397.7" x2="51.8" y2="397.7" stroke="#444" stroke-width="0.9"/>
<text x="49.2" y="400.45" font-size="8.2" fill="#4d4d4d" stroke="#4d4d4d" stroke-width="0.25" text-anchor="end" textLength="14.79" lengthAdjust="spacingAndGlyphs">0.00</text>
<line x1="49.8" y1="375.8" x2="51.8" y2="375.8" stroke="#444" stroke-width="0.9"/>
<text x="49.2" y="378.55" font-size="8.2" fill="#4d4d4d" stroke="#4d4d4d" stroke-width="0.25" text-anchor="end" textLength="14.79" lengthAdjust="spacingAndGlyphs">0.25</text>
<line x1="49.8" y1="353.9" x2="51.8" y2="353.9" stroke="#444" stroke-width="0.9"/>
<text x="49.2" y="356.65" font-size="8.2" fill="#4d4d4d" stroke="#4d4d4d" stroke-width="0.25" text-anchor="end" textLength="14.79" lengthAdjust="spacingAndGlyphs">0.50</text>
<line x1="49.8" y1="332" x2="51.8" y2="332" stroke="#444" stroke-width="0.9"/>
<text x="49.2" y="334.75" font-size="8.2" fill="#4d4d4d" stroke="#4d4d4d" stroke-width="0.25" text-anchor="end" textLength="14.79" lengthAdjust="spacingAndGlyphs">0.75</text>
<line x1="49.8" y1="310.1" x2="51.8" y2="310.1" stroke="#444" stroke-width="0.9"/>
<text x="49.2" y="312.85" font-size="8.2" fill="#4d4d4d" stroke="#4d4d4d" stroke-width="0.25" text-anchor="end" textLength="14.79" lengthAdjust="spacingAndGlyphs">1.00</text>
<line x1="64.33" y1="401.8" x2="64.33" y2="404" stroke="#333" stroke-width="0.9"/>
<text x="64.33" y="410.6" font-size="8.2" fill="#4d4d4d" stroke="#4d4d4d" stroke-width="0.25" text-anchor="middle" textLength="4.23" lengthAdjust="spacingAndGlyphs">0</text>
<line x1="85.22" y1="401.8" x2="85.22" y2="404" stroke="#333" stroke-width="0.9"/>
<text x="85.22" y="410.6" font-size="8.2" fill="#4d4d4d" stroke="#4d4d4d" stroke-width="0.25" text-anchor="middle" textLength="4.23" lengthAdjust="spacingAndGlyphs">1</text>
<line x1="106.11" y1="401.8" x2="106.11" y2="404" stroke="#333" stroke-width="0.9"/>
<text x="106.11" y="410.6" font-size="8.2" fill="#4d4d4d" stroke="#4d4d4d" stroke-width="0.25" text-anchor="middle" textLength="4.23" lengthAdjust="spacingAndGlyphs">2</text>
<line x1="126.99" y1="401.8" x2="126.99" y2="404" stroke="#333" stroke-width="0.9"/>
<text x="126.99" y="410.6" font-size="8.2" fill="#4d4d4d" stroke="#4d4d4d" stroke-width="0.25" text-anchor="middle" textLength="4.23" lengthAdjust="spacingAndGlyphs">3</text>
<line x1="147.88" y1="401.8" x2="147.88" y2="404" stroke="#333" stroke-width="0.9"/>
<text x="147.88" y="410.6" font-size="8.2" fill="#4d4d4d" stroke="#4d4d4d" stroke-width="0.25" text-anchor="middle" textLength="4.23" lengthAdjust="spacingAndGlyphs">4</text>
<line x1="168.77" y1="401.8" x2="168.77" y2="404" stroke="#333" stroke-width="0.9"/>
<text x="168.77" y="410.6" font-size="8.2" fill="#4d4d4d" stroke="#4d4d4d" stroke-width="0.25" text-anchor="middle" textLength="4.23" lengthAdjust="spacingAndGlyphs">5</text>
<text x="116.55" y="420.7" font-size="9.2" fill="#111" stroke="#111" stroke-width="0.15" text-anchor="middle" textLength="32.6" lengthAdjust="spacingAndGlyphs">cell type</text>
<text x="30" y="353.7" font-size="9.5" fill="#111" stroke="#111" stroke-width="0.15" text-anchor="middle" textLength="31.7" lengthAdjust="spacingAndGlyphs" transform="rotate(-90 30 353.7)">AUROC</text>
<line x1="224.5" y1="387.71" x2="359.1" y2="387.71" stroke="#efefef" stroke-width="0.5"/>
<line x1="224.5" y1="366.93" x2="359.1" y2="366.93" stroke="#efefef" stroke-width="0.5"/>
<line x1="224.5" y1="346.15" x2="359.1" y2="346.15" stroke="#efefef" stroke-width="0.5"/>
<line x1="224.5" y1="325.37" x2="359.1" y2="325.37" stroke="#efefef" stroke-width="0.5"/>
<line x1="224.5" y1="398.1" x2="359.1" y2="398.1" stroke="#efefef" stroke-width="0.9"/>
<line x1="224.5" y1="377.32" x2="359.1" y2="377.32" stroke="#efefef" stroke-width="0.9"/>
<line x1="224.5" y1="356.54" x2="359.1" y2="356.54" stroke="#efefef" stroke-width="0.9"/>
<line x1="224.5" y1="335.76" x2="359.1" y2="335.76" stroke="#efefef" stroke-width="0.9"/>
<line x1="224.5" y1="314.98" x2="359.1" y2="314.98" stroke="#efefef" stroke-width="0.9"/>
<line x1="237.53" y1="305.7" x2="237.53" y2="401.9" stroke="#efefef" stroke-width="0.9"/>
<line x1="259.24" y1="305.7" x2="259.24" y2="401.9" stroke="#efefef" stroke-width="0.9"/>
<line x1="280.95" y1="305.7" x2="280.95" y2="401.9" stroke="#efefef" stroke-width="0.9"/>
<line x1="302.65" y1="305.7" x2="302.65" y2="401.9" stroke="#efefef" stroke-width="0.9"/>
<line x1="324.36" y1="305.7" x2="324.36" y2="401.9" stroke="#efefef" stroke-width="0.9"/>
<line x1="346.07" y1="305.7" x2="346.07" y2="401.9" stroke="#efefef" stroke-width="0.9"/>
<rect x="227.76" y="321.42" width="19.54" height="76.68" fill="#fff" stroke="#3d8ef0" stroke-width="1.25"/>
<rect x="249.47" y="309.89" width="19.54" height="88.21" fill="#fff" stroke="#3d8ef0" stroke-width="1.25"/>
<rect x="271.18" y="312.59" width="19.54" height="85.51" fill="#fff" stroke="#3d8ef0" stroke-width="1.25"/>
<rect x="292.89" y="328.59" width="19.54" height="69.51" fill="#fff" stroke="#3d8ef0" stroke-width="1.25"/>
<rect x="314.6" y="323.5" width="19.54" height="74.6" fill="#fff" stroke="#3d8ef0" stroke-width="1.25"/>
<rect x="336.3" y="343.66" width="19.54" height="54.44" fill="#fff" stroke="#3d8ef0" stroke-width="1.25"/>
<rect x="224.5" y="305.7" width="134.6" height="96.2" fill="none" stroke="#8e8e8e" stroke-width="1.35"/>
<line x1="222.5" y1="398.1" x2="224.5" y2="398.1" stroke="#444" stroke-width="0.9"/>
<text x="221.9" y="400.85" font-size="8.2" fill="#4d4d4d" stroke="#4d4d4d" stroke-width="0.25" text-anchor="end" textLength="10.57" lengthAdjust="spacingAndGlyphs">0.0</text>
<line x1="222.5" y1="377.32" x2="224.5" y2="377.32" stroke="#444" stroke-width="0.9"/>
<text x="221.9" y="380.07" font-size="8.2" fill="#4d4d4d" stroke="#4d4d4d" stroke-width="0.25" text-anchor="end" textLength="10.57" lengthAdjust="spacingAndGlyphs">0.2</text>
<line x1="222.5" y1="356.54" x2="224.5" y2="356.54" stroke="#444" stroke-width="0.9"/>
<text x="221.9" y="359.29" font-size="8.2" fill="#4d4d4d" stroke="#4d4d4d" stroke-width="0.25" text-anchor="end" textLength="10.57" lengthAdjust="spacingAndGlyphs">0.4</text>
<line x1="222.5" y1="335.76" x2="224.5" y2="335.76" stroke="#444" stroke-width="0.9"/>
<text x="221.9" y="338.51" font-size="8.2" fill="#4d4d4d" stroke="#4d4d4d" stroke-width="0.25" text-anchor="end" textLength="10.57" lengthAdjust="spacingAndGlyphs">0.6</text>
<line x1="222.5" y1="314.98" x2="224.5" y2="314.98" stroke="#444" stroke-width="0.9"/>
<text x="221.9" y="317.73" font-size="8.2" fill="#4d4d4d" stroke="#4d4d4d" stroke-width="0.25" text-anchor="end" textLength="10.57" lengthAdjust="spacingAndGlyphs">0.8</text>
<line x1="237.53" y1="401.9" x2="237.53" y2="404.1" stroke="#333" stroke-width="0.9"/>
<text x="237.53" y="410.7" font-size="8.2" fill="#4d4d4d" stroke="#4d4d4d" stroke-width="0.25" text-anchor="middle" textLength="4.23" lengthAdjust="spacingAndGlyphs">0</text>
<line x1="259.24" y1="401.9" x2="259.24" y2="404.1" stroke="#333" stroke-width="0.9"/>
<text x="259.24" y="410.7" font-size="8.2" fill="#4d4d4d" stroke="#4d4d4d" stroke-width="0.25" text-anchor="middle" textLength="4.23" lengthAdjust="spacingAndGlyphs">1</text>
<line x1="280.95" y1="401.9" x2="280.95" y2="404.1" stroke="#333" stroke-width="0.9"/>
<text x="280.95" y="410.7" font-size="8.2" fill="#4d4d4d" stroke="#4d4d4d" stroke-width="0.25" text-anchor="middle" textLength="4.23" lengthAdjust="spacingAndGlyphs">2</text>
<line x1="302.65" y1="401.9" x2="302.65" y2="404.1" stroke="#333" stroke-width="0.9"/>
<text x="302.65" y="410.7" font-size="8.2" fill="#4d4d4d" stroke="#4d4d4d" stroke-width="0.25" text-anchor="middle" textLength="4.23" lengthAdjust="spacingAndGlyphs">3</text>
<line x1="324.36" y1="401.9" x2="324.36" y2="404.1" stroke="#333" stroke-width="0.9"/>
<text x="324.36" y="410.7" font-size="8.2" fill="#4d4d4d" stroke="#4d4d4d" stroke-width="0.25" text-anchor="middle" textLength="4.23" lengthAdjust="spacingAndGlyphs">4</text>
<line x1="346.07" y1="401.9" x2="346.07" y2="404.1" stroke="#333" stroke-width="0.9"/>
<text x="346.07" y="410.7" font-size="8.2" fill="#4d4d4d" stroke="#4d4d4d" stroke-width="0.25" text-anchor="middle" textLength="4.23" lengthAdjust="spacingAndGlyphs">5</text>
<text x="291.8" y="420.8" font-size="9.2" fill="#111" stroke="#111" stroke-width="0.15" text-anchor="middle" textLength="32.6" lengthAdjust="spacingAndGlyphs">cell type</text>
<text x="207.3" y="353.8" font-size="9.5" fill="#111" stroke="#111" stroke-width="0.15" text-anchor="middle" textLength="24.5" lengthAdjust="spacingAndGlyphs" transform="rotate(-90 207.3 353.8)">AUPR</text>
<line x1="401.5" y1="381.95" x2="536.4" y2="381.95" stroke="#efefef" stroke-width="0.5"/>
<line x1="401.5" y1="352.85" x2="536.4" y2="352.85" stroke="#efefef" stroke-width="0.5"/>
<line x1="401.5" y1="323.75" x2="536.4" y2="323.75" stroke="#efefef" stroke-width="0.5"/>
<line x1="401.5" y1="396.5" x2="536.4" y2="396.5" stroke="#efefef" stroke-width="0.9"/>
<line x1="401.5" y1="367.4" x2="536.4" y2="367.4" stroke="#efefef" stroke-width="0.9"/>
<line x1="401.5" y1="338.3" x2="536.4" y2="338.3" stroke="#efefef" stroke-width="0.9"/>
<line x1="401.5" y1="309.2" x2="536.4" y2="309.2" stroke="#efefef" stroke-width="0.9"/>
<line x1="414.55" y1="305.5" x2="414.55" y2="400.5" stroke="#efefef" stroke-width="0.9"/>
<line x1="436.31" y1="305.5" x2="436.31" y2="400.5" stroke="#efefef" stroke-width="0.9"/>
<line x1="458.07" y1="305.5" x2="458.07" y2="400.5" stroke="#efefef" stroke-width="0.9"/>
<line x1="479.83" y1="305.5" x2="479.83" y2="400.5" stroke="#efefef" stroke-width="0.9"/>
<line x1="501.59" y1="305.5" x2="501.59" y2="400.5" stroke="#efefef" stroke-width="0.9"/>
<line x1="523.35" y1="305.5" x2="523.35" y2="400.5" stroke="#efefef" stroke-width="0.9"/>
<rect x="404.76" y="327.68" width="19.58" height="68.82" fill="#fff" stroke="#3d8ef0" stroke-width="1.25"/>
<rect x="426.52" y="315.89" width="19.58" height="80.61" fill="#fff" stroke="#3d8ef0" stroke-width="1.25"/>
<rect x="448.28" y="318.95" width="19.58" height="77.55" fill="#fff" stroke="#3d8ef0" stroke-width="1.25"/>
<rect x="470.04" y="323.46" width="19.58" height="73.04" fill="#fff" stroke="#3d8ef0" stroke-width="1.25"/>
<rect x="491.8" y="332.77" width="19.58" height="63.73" fill="#fff" stroke="#3d8ef0" stroke-width="1.25"/>
<rect x="513.55" y="348.34" width="19.58" height="48.16" fill="#fff" stroke="#3d8ef0" stroke-width="1.25"/>
<rect x="401.5" y="305.5" width="134.9" height="95" fill="none" stroke="#8e8e8e" stroke-width="1.35"/>
<line x1="399.5" y1="396.5" x2="401.5" y2="396.5" stroke="#444" stroke-width="0.9"/>
<text x="398.9" y="399.25" font-size="8.2" fill="#4d4d4d" stroke="#4d4d4d" stroke-width="0.25" text-anchor="end" textLength="4.23" lengthAdjust="spacingAndGlyphs">0</text>
<line x1="399.5" y1="367.4" x2="401.5" y2="367.4" stroke="#444" stroke-width="0.9"/>
<text x="398.9" y="370.15" font-size="8.2" fill="#4d4d4d" stroke="#4d4d4d" stroke-width="0.25" text-anchor="end" textLength="8.45" lengthAdjust="spacingAndGlyphs">20</text>
<line x1="399.5" y1="338.3" x2="401.5" y2="338.3" stroke="#444" stroke-width="0.9"/>
<text x="398.9" y="341.05" font-size="8.2" fill="#4d4d4d" stroke="#4d4d4d" stroke-width="0.25" text-anchor="end" textLength="8.45" lengthAdjust="spacingAndGlyphs">40</text>
<line x1="399.5" y1="309.2" x2="401.5" y2="309.2" stroke="#444" stroke-width="0.9"/>
<text x="398.9" y="311.95" font-size="8.2" fill="#4d4d4d" stroke="#4d4d4d" stroke-width="0.25" text-anchor="end" textLength="8.45" lengthAdjust="spacingAndGlyphs">60</text>
<line x1="414.55" y1="400.5" x2="414.55" y2="402.7" stroke="#333" stroke-width="0.9"/>
<text x="414.55" y="409.3" font-size="8.2" fill="#4d4d4d" stroke="#4d4d4d" stroke-width="0.25" text-anchor="middle" textLength="4.23" lengthAdjust="spacingAndGlyphs">0</text>
<line x1="436.31" y1="400.5" x2="436.31" y2="402.7" stroke="#333" stroke-width="0.9"/>
<text x="436.31" y="409.3" font-size="8.2" fill="#4d4d4d" stroke="#4d4d4d" stroke-width="0.25" text-anchor="middle" textLength="4.23" lengthAdjust="spacingAndGlyphs">1</text>
<line x1="458.07" y1="400.5" x2="458.07" y2="402.7" stroke="#333" stroke-width="0.9"/>
<text x="458.07" y="409.3" font-size="8.2" fill="#4d4d4d" stroke="#4d4d4d" stroke-width="0.25" text-anchor="middle" textLength="4.23" lengthAdjust="spacingAndGlyphs">2</text>
<line x1="479.83" y1="400.5" x2="479.83" y2="402.7" stroke="#333" stroke-width="0.9"/>
<text x="479.83" y="409.3" font-size="8.2" fill="#4d4d4d" stroke="#4d4d4d" stroke-width="0.25" text-anchor="middle" textLength="4.23" lengthAdjust="spacingAndGlyphs">3</text>
<line x1="501.59" y1="400.5" x2="501.59" y2="402.7" stroke="#333" stroke-width="0.9"/>
<text x="501.59" y="409.3" font-size="8.2" fill="#4d4d4d" stroke="#4d4d4d" stroke-width="0.25" text-anchor="middle" textLength="4.23" lengthAdjust="spacingAndGlyphs">4</text>
<line x1="523.35" y1="400.5" x2="523.35" y2="402.7" stroke="#333" stroke-width="0.9"/>
<text x="523.35" y="409.3" font-size="8.2" fill="#4d4d4d" stroke="#4d4d4d" stroke-width="0.25" text-anchor="middle" textLength="4.23" lengthAdjust="spacingAndGlyphs">5</text>
<text x="468.95" y="419.4" font-size="9.2" fill="#111" stroke="#111" stroke-width="0.15" text-anchor="middle" textLength="32.6" lengthAdjust="spacingAndGlyphs">cell type</text>
<text x="388.2" y="353" font-size="9.5" fill="#111" stroke="#111" stroke-width="0.15" text-anchor="middle" textLength="67" lengthAdjust="spacingAndGlyphs" transform="rotate(-90 388.2 353)">peak number (k)</text>
<text x="386.4" y="25.7" font-size="11.2" fill="#505050" textLength="132.7" lengthAdjust="spacingAndGlyphs">Evaluation by Chromosome</text>
<line x1="388.5" y1="96.25" x2="440.5" y2="96.25" stroke="#efefef" stroke-width="0.5"/>
<line x1="388.5" y1="83.75" x2="440.5" y2="83.75" stroke="#efefef" stroke-width="0.5"/>
<line x1="388.5" y1="71.25" x2="440.5" y2="71.25" stroke="#efefef" stroke-width="0.5"/>
<line x1="388.5" y1="58.75" x2="440.5" y2="58.75" stroke="#efefef" stroke-width="0.5"/>
<line x1="388.5" y1="102.5" x2="440.5" y2="102.5" stroke="#efefef" stroke-width="0.8"/>
<line x1="388.5" y1="90" x2="440.5" y2="90" stroke="#efefef" stroke-width="0.8"/>
<line x1="388.5" y1="77.5" x2="440.5" y2="77.5" stroke="#efefef" stroke-width="0.8"/>
<line x1="388.5" y1="65" x2="440.5" y2="65" stroke="#efefef" stroke-width="0.8"/>
<line x1="388.5" y1="52.5" x2="440.5" y2="52.5" stroke="#efefef" stroke-width="0.8"/>
<line x1="402.68" y1="49.5" x2="402.68" y2="105" stroke="#efefef" stroke-width="0.8"/>
<line x1="426.32" y1="49.5" x2="426.32" y2="105" stroke="#efefef" stroke-width="0.8"/>
<rect x="388.5" y="38.2" width="52" height="11.3" fill="#d9d9d9" stroke="#555" stroke-width="0.9"/>
<text x="414.5" y="46.3" font-size="5.8" fill="#3a3a3a" stroke="#3a3a3a" stroke-width="0.05" text-anchor="middle" textLength="17.6" lengthAdjust="spacingAndGlyphs">PBMC</text>
<rect x="393.82" y="56.45" width="17.73" height="1.2" fill="#e84a1f" stroke="#e84a1f" stroke-width="0.6"/>
<circle cx="402.18" cy="58" r="0.7" fill="#e84a1f"/>
<rect x="417.45" y="59.25" width="17.73" height="1.9" fill="#e84a1f" stroke="#e84a1f" stroke-width="0.6"/>
<circle cx="425.32" cy="64.25" r="0.7" fill="#e84a1f"/>
<circle cx="426.82" cy="58" r="0.7" fill="#e84a1f"/>
<rect x="388.5" y="49.5" width="52" height="55.5" fill="none" stroke="#777" stroke-width="1"/>
<line x1="402.68" y1="105" x2="402.68" y2="107" stroke="#333" stroke-width="0.8"/>
<line x1="426.32" y1="105" x2="426.32" y2="107" stroke="#333" stroke-width="0.8"/>
<line x1="444.2" y1="96.25" x2="496" y2="96.25" stroke="#efefef" stroke-width="0.5"/>
<line x1="444.2" y1="83.75" x2="496" y2="83.75" stroke="#efefef" stroke-width="0.5"/>
<line x1="444.2" y1="71.25" x2="496" y2="71.25" stroke="#efefef" stroke-width="0.5"/>
<line x1="444.2" y1="58.75" x2="496" y2="58.75" stroke="#efefef" stroke-width="0.5"/>
<line x1="444.2" y1="102.5" x2="496" y2="102.5" stroke="#efefef" stroke-width="0.8"/>
<line x1="444.2" y1="90" x2="496" y2="90" stroke="#efefef" stroke-width="0.8"/>
<line x1="444.2" y1="77.5" x2="496" y2="77.5" stroke="#efefef" stroke-width="0.8"/>
<line x1="444.2" y1="65" x2="496" y2="65" stroke="#efefef" stroke-width="0.8"/>
<line x1="444.2" y1="52.5" x2="496" y2="52.5" stroke="#efefef" stroke-width="0.8"/>
<line x1="458.33" y1="49.5" x2="458.33" y2="105" stroke="#efefef" stroke-width="0.8"/>
<line x1="481.87" y1="49.5" x2="481.87" y2="105" stroke="#efefef" stroke-width="0.8"/>
<rect x="444.2" y="38.2" width="51.8" height="11.3" fill="#d9d9d9" stroke="#555" stroke-width="0.9"/>
<text x="470.1" y="46.3" font-size="5.8" fill="#3a3a3a" stroke="#3a3a3a" stroke-width="0.05" text-anchor="middle" textLength="14.22" lengthAdjust="spacingAndGlyphs">Brain</text>
<rect x="449.5" y="56.2" width="17.66" height="1.3" fill="#2d7ff0" stroke="#2d7ff0" stroke-width="0.6"/>
<circle cx="458.33" cy="57.5" r="0.7" fill="#2d7ff0"/>
<rect x="473.04" y="63.4" width="17.66" height="1.2" fill="#2d7ff0" stroke="#2d7ff0" stroke-width="0.6"/>
<circle cx="481.87" cy="65.25" r="0.7" fill="#2d7ff0"/>
<circle cx="482.37" cy="62" r="0.7" fill="#2d7ff0"/>
<rect x="444.2" y="49.5" width="51.8" height="55.5" fill="none" stroke="#777" stroke-width="1"/>
<line x1="458.33" y1="105" x2="458.33" y2="107" stroke="#333" stroke-width="0.8"/>
<line x1="481.87" y1="105" x2="481.87" y2="107" stroke="#333" stroke-width="0.8"/>
<line x1="386.4" y1="102.5" x2="388.5" y2="102.5" stroke="#333" stroke-width="0.9"/>
<text x="385.6" y="105" font-size="7" fill="#4d4d4d" stroke="#4d4d4d" stroke-width="0.21" text-anchor="end" textLength="13.5" lengthAdjust="spacingAndGlyphs">0.00</text>
<line x1="386.4" y1="90" x2="388.5" y2="90" stroke="#333" stroke-width="0.9"/>
<text x="385.6" y="92.5" font-size="7" fill="#4d4d4d" stroke="#4d4d4d" stroke-width="0.21" text-anchor="end" textLength="13.5" lengthAdjust="spacingAndGlyphs">0.25</text>
<line x1="386.4" y1="77.5" x2="388.5" y2="77.5" stroke="#333" stroke-width="0.9"/>
<text x="385.6" y="80" font-size="7" fill="#4d4d4d" stroke="#4d4d4d" stroke-width="0.21" text-anchor="end" textLength="13.5" lengthAdjust="spacingAndGlyphs">0.50</text>
<line x1="386.4" y1="65" x2="388.5" y2="65" stroke="#333" stroke-width="0.9"/>
<text x="385.6" y="67.5" font-size="7" fill="#4d4d4d" stroke="#4d4d4d" stroke-width="0.21" text-anchor="end" textLength="13.5" lengthAdjust="spacingAndGlyphs">0.75</text>
<line x1="386.4" y1="52.5" x2="388.5" y2="52.5" stroke="#333" stroke-width="0.9"/>
<text x="385.6" y="55" font-size="7" fill="#4d4d4d" stroke="#4d4d4d" stroke-width="0.21" text-anchor="end" textLength="13.5" lengthAdjust="spacingAndGlyphs">1.00</text>
<text x="402.68" y="113.5" font-size="7.2" fill="#4d4d4d" stroke="#4d4d4d" stroke-width="0.22" text-anchor="middle" textLength="14" lengthAdjust="spacingAndGlyphs">AUC</text>
<text x="426.32" y="113.5" font-size="7.2" fill="#4d4d4d" stroke="#4d4d4d" stroke-width="0.22" text-anchor="middle" textLength="19.3" lengthAdjust="spacingAndGlyphs">AUPR</text>
<text x="458.33" y="113.5" font-size="7.2" fill="#4d4d4d" stroke="#4d4d4d" stroke-width="0.22" text-anchor="middle" textLength="14" lengthAdjust="spacingAndGlyphs">AUC</text>
<text x="481.87" y="113.5" font-size="7.2" fill="#4d4d4d" stroke="#4d4d4d" stroke-width="0.22" text-anchor="middle" textLength="19.3" lengthAdjust="spacingAndGlyphs">AUPR</text>
<text x="442" y="123.7" font-size="9.2" fill="#111" stroke="#111" stroke-width="0.28" text-anchor="middle" textLength="29.4" lengthAdjust="spacingAndGlyphs">metrics</text>
<text x="368.2" y="77.1" font-size="9.2" fill="#111" stroke="#111" stroke-width="0.28" text-anchor="middle" textLength="20.4" lengthAdjust="spacingAndGlyphs" transform="rotate(-90 368.2 77.1)">value</text>
<text x="506.5" y="66.7" font-size="6.6" fill="#222" stroke="#222" stroke-width="0.2" textLength="13.5" lengthAdjust="spacingAndGlyphs" font-weight="bold">data</text>
<text x="521.4" y="79.1" font-size="6.2" fill="#444" stroke="#444" stroke-width="0.08" textLength="16.2" lengthAdjust="spacingAndGlyphs">PBMC</text>
<text x="521.4" y="90.7" font-size="6.2" fill="#444" stroke="#444" stroke-width="0.08" textLength="13.6" lengthAdjust="spacingAndGlyphs">Brain</text>
<line x1="512.1" y1="72.8" x2="512.1" y2="81.6" stroke="#e8683a" stroke-width="0.9"/>
<rect x="507.6" y="74" width="9" height="6.4" fill="#fff" stroke="#e8683a" stroke-width="1.2"/>
<line x1="507.6" y1="77.2" x2="516.6" y2="77.2" stroke="#e8683a" stroke-width="1.2"/>
<line x1="512.1" y1="84.1" x2="512.1" y2="92.9" stroke="#3a8ef0" stroke-width="0.9"/>
<rect x="507.6" y="85.3" width="9" height="6.4" fill="#fff" stroke="#3a8ef0" stroke-width="1.2"/>
<line x1="507.6" y1="88.5" x2="516.6" y2="88.5" stroke="#3a8ef0" stroke-width="1.2"/>
</svg>
</body></html>
